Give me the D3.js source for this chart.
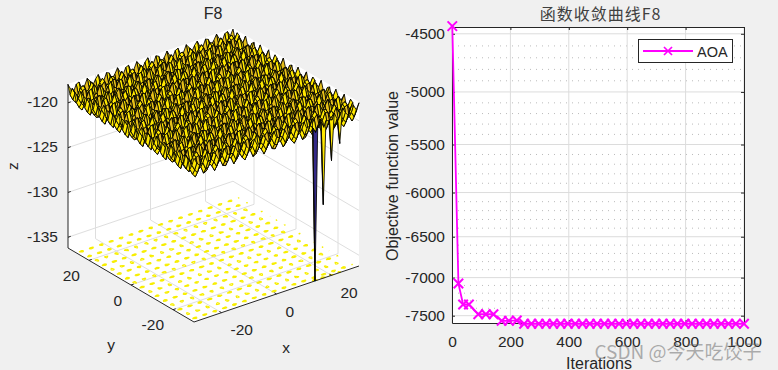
<!DOCTYPE html>
<html>
<head>
<meta charset="utf-8">
<style>
  html, body { margin: 0; padding: 0; background: #f0f0f0; overflow: hidden; }
  text { font-family: "Liberation Sans", Arial, sans-serif; fill: #262626; }
</style>
<script src="https://cdn.jsdelivr.net/npm/d3@7"></script>
</head>
<body>
<div id="chart"></div>
<script>
const gridX = [-30,-29,-28,-27,-26,-25,-24,-23,-22,-21,-20,-19,-18,-17,-16,-15,-14,-13,-12,-11,-10,-9,-8,-7,-6,-5,-4,-3,-2,-1,0,1,2,3,4,5,6,7,8,9,10,11,12,13,14,15,16,17,18,19,20,21,22,23,24,25,26,27,28,29,30];
const gridY = gridX;
const depthX = [0,.6,.97,.25,.12,.88,.75,.03,.41,1,.41,.03,.75,.88,.12,.25,.97,.59,0,.58,.96,.26,.13,.89,.74,.04,.42,1,.4,.03,.76,.87,.12,.26,.97,.6,.01,.59,.97,.25,.11,.88,.75,.03,.41,.99,.41,.04,.75,.88,.13,.25,.96,.58,0,.59,.97,.25,.12,.7,.05];
const depthY = [.02,.59,.97,.26,.12,.87,.76,.03,.4,1,.42,.03,.74,.89,.12,.24,.97,.6,.01,.6,.95,.25,.12,.88,.75,.02,.41,1,.41,.04,.75,.88,.14,.25,.98,.59,0,.58,.97,.26,.12,.89,.75,.03,.42,1,.4,.03,.76,.87,.12,.25,.97,.6,.01,.59,.96,.25,.13,.68,.04];
const surfaceTop = -117.9;
const ampX = 1.05;
const ampY = 1.6;
const spikeI = [44, 47, 50, 53];
const spikeJ = [0, 0, 0, 0];
const spikeZ = [-136.2, -128, -123.4, -121.8];
const zTicks = [-135, -130, -125, -120];
const xyTicks = [-20, 0, 20];
const contourLevels = [-134, -131, -128, -125, -122.5, -120.3, -120.05];
const contourColors = ['#1481d6', '#12a4c8', '#5cc08c', '#d1bb59', '#fdb83c', '#f7ee00', '#f7ee00'];
const faceBreaks = [-135, -120.2, -119.5];
const faceColors = ['#352a87', '#ffe800', '#e6bf1a', '#ffe800'];

// right panel: convergence curve
const iterations = [1, 22, 38, 58, 90, 116, 142, 170, 195, 222, 247, 272, 297, 322, 347, 372, 397, 422, 447, 472, 497, 522, 547, 572, 597, 622, 647, 672, 697, 722, 747, 772, 797, 822, 847, 872, 897, 922, 947, 972, 1000];
const objective = [-4438, -7075, -7350, -7350, -7480, -7480, -7480, -7570, -7570, -7565, -7610, -7610, -7610, -7610, -7610, -7610, -7610, -7610, -7610, -7610, -7610, -7610, -7610, -7610, -7610, -7610, -7610, -7610, -7610, -7610, -7610, -7610, -7610, -7610, -7610, -7610, -7610, -7610, -7610, -7610, -7610];
const iterTicks = [0, 200, 400, 600, 800, 1000];
const objMajor = [-7500, -7000, -6500, -6000, -5500, -5000, -4500];
const objMinor = [-7400, -7300, -7200, -7100, -6900, -6800, -6700, -6600, -6400, -6300, -6200, -6100, -5900, -5800, -5700, -5600, -5400, -5300, -5200, -5100, -4900, -4800, -4700, -4600];

const width = 778, height = 370;
const svg = d3.select('#chart').append('svg')
  .attr('width', width)
  .attr('height', height)
  .style('display', 'block');

// ---------- left panel ----------
const zRange = [-136.2, surfaceTop];
const colorOf = d3.scaleThreshold().domain(faceBreaks).range(faceColors);

const xToX = d3.scaleLinear().domain([-30, 30]).range([0, 165]);
const xToY = d3.scaleLinear().domain([-30, 30]).range([0, -56]);
const yToX = d3.scaleLinear().domain([-30, 30]).range([0, -126]);
const yToY = d3.scaleLinear().domain([-30, 30]).range([0, -74]);
const zToY = d3.scaleLinear().domain(zRange).range([0, -164]);
const project = (x, y, z) => [194 + xToX(x) + yToX(y), 322 + xToY(x) + yToY(y) + zToY(z)];

const n = gridX.length;
const zGrid = [];
for (let j = 0; j < n; j++) {
  for (let i = 0; i < n; i++) {
    zGrid.push(surfaceTop - ampX * depthX[i] - ampY * depthY[j]);
  }
}
spikeI.forEach((si, k) => { zGrid[si + spikeJ[k] * n] = spikeZ[k]; });
const zAt = (i, j) => zGrid[i + j * n];

const left = svg.append('g');
const zLo = zRange[0], zHi = zRange[1];
const pts = a => a.map(p => p.join(',')).join(' ');

left.append('polygon')
  .attr('points', pts([project(-30, 30, zLo), project(-30, -30, zLo), project(30, -30, zLo),
    project(30, -30, zHi), project(30, 30, zHi), project(-30, 30, zHi)]))
  .attr('fill', '#fff');

// grid on floor and the two back walls
const gridG = left.append('g').attr('stroke', '#dedede').attr('stroke-width', 1).attr('fill', 'none');
const seg = (a, b) => gridG.append('line').attr('x1', a[0]).attr('y1', a[1]).attr('x2', b[0]).attr('y2', b[1]);
xyTicks.forEach(t => {
  seg(project(t, -30, zLo), project(t, 30, zLo));
  seg(project(t, 30, zLo), project(t, 30, zHi));
  seg(project(-30, t, zLo), project(30, t, zLo));
  seg(project(30, t, zLo), project(30, t, zHi));
});
zTicks.forEach(t => {
  seg(project(-30, 30, t), project(30, 30, t));
  seg(project(30, 30, t), project(30, -30, t));
});

// contours on the floor
const contours = d3.contours().size([n, n]).thresholds(contourLevels).smooth(true)(zGrid);
const toFloor = p => project(gridX[0] + p[0] - 0.5, gridY[0] + p[1] - 0.5, zLo);
const onEdge = p => p[0] <= 0.5 || p[1] <= 0.5 || p[0] >= n - 0.5 || p[1] >= n - 0.5;
contours.forEach(c => {
  let d = '';
  c.coordinates.forEach(poly => poly.forEach(ring => {
    for (let s = 1; s < ring.length; s++) {
      if (onEdge(ring[s - 1]) && onEdge(ring[s])) continue;
      const a = toFloor(ring[s - 1]), b = toFloor(ring[s]);
      d += `M${a[0].toFixed(2)},${a[1].toFixed(2)}L${b[0].toFixed(2)},${b[1].toFixed(2)}`;
    }
  }));
  left.append('path').attr('d', d).attr('fill', 'none')
    .attr('stroke', contourColors[contourLevels.indexOf(c.value)]).attr('stroke-width', 1.1);
});

// axis lines and ticks
const axisG = left.append('g').attr('stroke', '#262626').attr('stroke-width', 1).attr('fill', 'none');
const axLine = (a, b) => axisG.append('line').attr('x1', a[0]).attr('y1', a[1]).attr('x2', b[0]).attr('y2', b[1]);
axLine(project(-30, 30, zLo), project(-30, 30, zHi));
axLine(project(-30, 30, zLo), project(-30, -30, zLo));
axLine(project(-30, -30, zLo), project(30, -30, zLo));
xyTicks.forEach(t => {
  axLine(project(t, -30, zLo), project(t, -29, zLo));
  axLine(project(-30, t, zLo), project(-29, t, zLo));
});
zTicks.forEach(t => axLine(project(-30, 30, t), project(-29, 30, t)));

// surface, painted from the back corner to the front
const surf = left.append('g').attr('stroke', '#000').attr('stroke-width', 0.85).attr('stroke-linejoin', 'round');
for (let j = n - 2; j >= 0; j--) {
  for (let i = n - 2; i >= 0; i--) {
    const face = [
      project(gridX[i], gridY[j], zAt(i, j)),
      project(gridX[i + 1], gridY[j], zAt(i + 1, j)),
      project(gridX[i + 1], gridY[j + 1], zAt(i + 1, j + 1)),
      project(gridX[i], gridY[j + 1], zAt(i, j + 1))
    ];
    surf.append('polygon')
      .attr('points', face.map(p => p[0].toFixed(2) + ',' + p[1].toFixed(2)).join(' '))
      .attr('fill', colorOf(zAt(i, j)));
  }
}

const label = (g, x, y, s, anchor, size) => g.append('text')
  .attr('x', x).attr('y', y).attr('text-anchor', anchor || 'middle')
  .attr('dominant-baseline', 'central')
  .style('font-size', (size || 15.5) + 'px').text(s);

label(left, 213, 13, 'F8', 'middle', 16);
zTicks.forEach(t => label(left, 58, project(-30, 30, t)[1] - 1, String(t), 'end'));
xyTicks.forEach(t => {
  const ax = project(t, -30, zLo), ay = project(-30, t, zLo);
  label(left, ax[0] + 9, ax[1] + 17, String(t), 'start');
  label(left, ay[0] - 9, ay[1] + 15, String(t), 'end');
});
label(left, 286, 347, 'x');
label(left, 111, 344, 'y');
label(left, 12.5, 166, 'z').attr('transform', 'rotate(-90 12.5 166)');

// ---------- right panel ----------
const plot = { left: 452, right: 744, top: 27, bottom: 323 };
const xScale = d3.scaleLinear().domain([0, 1000]).range([plot.left, plot.right]);
const yScale = d3.scaleLog().domain([-7600, -4445]).range([plot.bottom, plot.top]);

const right = svg.append('g');
right.append('rect')
  .attr('x', plot.left).attr('y', plot.top)
  .attr('width', plot.right - plot.left).attr('height', plot.bottom - plot.top)
  .attr('fill', '#fff');

right.append('g').selectAll('line').data(objMinor).join('line')
  .attr('x1', plot.left).attr('x2', plot.right)
  .attr('y1', d => yScale(d)).attr('y2', d => yScale(d))
  .attr('stroke', '#bbb').attr('stroke-width', 1).attr('stroke-dasharray', '1,5');
right.append('g').selectAll('line').data(objMajor).join('line')
  .attr('x1', plot.left).attr('x2', plot.right)
  .attr('y1', d => yScale(d)).attr('y2', d => yScale(d))
  .attr('stroke', '#dcdcdc');
right.append('g').selectAll('line').data(iterTicks).join('line')
  .attr('x1', d => xScale(d)).attr('x2', d => xScale(d))
  .attr('y1', plot.top).attr('y2', plot.bottom)
  .attr('stroke', '#dcdcdc');

const styleAxis = g => {
  g.selectAll('.domain').attr('stroke', '#262626');
  g.selectAll('.tick line').attr('stroke', '#262626');
  g.selectAll('text').style('font-size', '15.5px').style('font-family', '"Liberation Sans", Arial, sans-serif').attr('fill', '#262626');
};
right.append('g').attr('transform', `translate(0,${plot.bottom})`)
  .call(d3.axisBottom(xScale).tickValues(iterTicks).tickSize(-3).tickSizeOuter(0).tickPadding(13).tickFormat(String))
  .call(styleAxis);
right.append('g').attr('transform', `translate(0,${plot.top})`)
  .call(d3.axisTop(xScale).tickValues(iterTicks).tickSize(-3).tickSizeOuter(0).tickFormat(''))
  .call(styleAxis);
right.append('g').attr('transform', `translate(${plot.left},0)`)
  .call(d3.axisLeft(yScale).tickValues(objMajor).tickSize(-3).tickSizeOuter(0).tickPadding(7).tickFormat(String))
  .call(styleAxis);
right.append('g').attr('transform', `translate(${plot.right},0)`)
  .call(d3.axisRight(yScale).tickValues(objMajor).tickSize(-3).tickSizeOuter(0).tickFormat(''))
  .call(styleAxis);

const magenta = '#ff00ff';
const lineGen = d3.line().x((d, i) => xScale(iterations[i])).y(d => yScale(d));
right.append('path').datum(objective).attr('d', lineGen)
  .attr('fill', 'none').attr('stroke', magenta).attr('stroke-width', 1.8);
const cross = d3.symbol(d3.symbolX, 60);
right.append('g').selectAll('path').data(objective).join('path')
  .attr('d', cross)
  .attr('transform', (d, i) => `translate(${xScale(iterations[i])},${yScale(d)})`)
  .attr('fill', 'none').attr('stroke', magenta).attr('stroke-width', 2);

// legend
right.append('rect').attr('x', 638.5).attr('y', 39.5).attr('width', 94).attr('height', 23)
  .attr('fill', '#fff').attr('stroke', '#262626');
right.append('line').attr('x1', 643).attr('x2', 693).attr('y1', 51).attr('y2', 51)
  .attr('stroke', magenta).attr('stroke-width', 1.8);
right.append('path').attr('d', cross).attr('transform', 'translate(668,51) scale(.85)')
  .attr('fill', 'none').attr('stroke', magenta).attr('stroke-width', 2);
label(right, 697, 51.5, 'AOA', 'start', 14.5);

label(right, 600.5, 13, '函数收敛曲线F8', 'middle', 16)
  .style('letter-spacing', '1px').style('font-family', '"Noto Sans CJK SC", sans-serif').style('fill', '#404040');
label(right, 392, 176, 'Objective function value', 'middle', 16).attr('transform', 'rotate(-90 392 176)');
label(right, 599, 363, 'Iterations', 'middle', 16);

// watermark left over on the screenshot
label(svg, 678, 350, 'CSDN @今天吃饺子', 'middle', 19)
  .style('font-family', '"Noto Sans CJK SC", sans-serif')
  .style('fill', 'rgba(110,110,110,0.55)');
</script>
</body>
</html>
